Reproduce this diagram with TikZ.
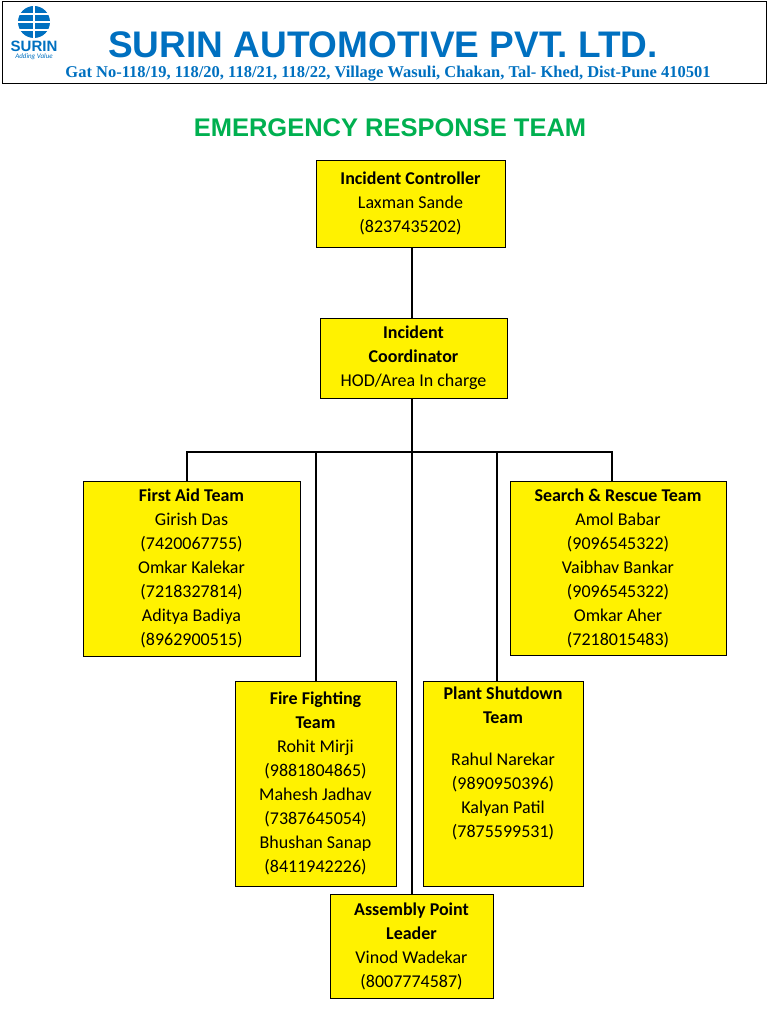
\documentclass[tikz,border=0pt]{standalone}
\usepackage{fontspec}
\setmainfont{Carlito}
\newfontfamily\headfont{Liberation Sans}
\newfontfamily\addrfont{Liberation Serif}
\usetikzlibrary{positioning}
\definecolor{surinblue}{RGB}{0,112,192}
\definecolor{titlegreen}{RGB}{0,176,80}
\tikzset{
  team/.style={draw=black, fill=yellow, align=center, inner sep=0pt,
    font=\fontsize{18}{24}\selectfont},
  link/.style={draw=black, line width=1.6pt}
}
\begin{document}
\begin{tikzpicture}[x=1pt, y=-1pt]
  \useasboundingbox (0,0) rectangle (768,1024);
  % header frame and logo
  \draw[line width=1pt] (2,2) rectangle (766,84);
  \fill[surinblue] (34,22) circle (16);
  \foreach \yy in {14,22,30} \draw[white, line width=1.2pt] (18,\yy) -- (50,\yy);
  \draw[white, line width=1.2pt] (34,5) -- (34,39);
  \node (logo) at (34,46) {\headfont\bfseries\fontsize{15}{15}\selectfont\color{surinblue}SURIN};
  \node[below=-5pt of logo] (slogan) {\itshape\fontsize{7}{7}\selectfont\color{surinblue}Adding Value};
  \node (company) at (383,45) {\headfont\bfseries\fontsize{37}{37}\selectfont\color{surinblue}SURIN AUTOMOTIVE PVT. LTD.};
  \node (address) at (388,74) {\addrfont\bfseries\fontsize{16.5}{16.5}\selectfont\color{surinblue}Gat No-118/19, 118/20, 118/21, 118/22, Village Wasuli, Chakan, Tal- Khed, Dist-Pune 410501};
  \node (title) at (390,128) {\headfont\bfseries\fontsize{25.5}{25.5}\selectfont\color{titlegreen}EMERGENCY RESPONSE TEAM};

  % team boxes
  \node[team, minimum width=189, minimum height=87] (controller) at (410.5,203.5)
    {\textbf{Incident Controller}\\Laxman Sande\\(8237435202)};
  \node[team, minimum width=187, minimum height=80] (coordinator) at (413.5,358)
    {\textbf{Incident}\\\textbf{Coordinator}\\HOD/Area In charge};
  \node[team, minimum width=217, minimum height=175] (firstaid) at (191.5,568.5)
    {\textbf{First Aid Team}\\Girish Das\\(7420067755)\\Omkar Kalekar\\(7218327814)\\Aditya Badiya\\(8962900515)};
  \node[team, minimum width=216, minimum height=174] (rescue) at (618,568)
    {\textbf{Search \& Rescue Team}\\Amol Babar\\(9096545322)\\Vaibhav Bankar\\(9096545322)\\Omkar Aher\\(7218015483)};
  \node[team, minimum width=161, minimum height=205] (fire) at (315.5,783.5)
    {\textbf{Fire Fighting}\\\textbf{Team}\\Rohit Mirji\\(9881804865)\\Mahesh Jadhav\\(7387645054)\\Bhushan Sanap\\(8411942226)};
  \node[team, minimum width=160, minimum height=205] (shutdown) at (503,783.5)
    {\textbf{Plant Shutdown}\\\textbf{Team}\\[18pt]Rahul Narekar\\(9890950396)\\Kalyan Patil\\(7875599531)\\[18pt]};
  \node[team, minimum width=163, minimum height=104] (assembly) at (411.5,946)
    {\textbf{Assembly Point}\\\textbf{Leader}\\Vinod Wadekar\\(8007774587)};

  % connectors
  \coordinate (bus) at (412,452);
  \draw[link] (controller.south -| bus) -- (coordinator.north -| bus);
  \draw[link] (coordinator.south -| bus) -- (bus);
  \draw[link] (firstaid.north -| 187,0) |- (bus) -| (rescue.north -| 612,0);
  \draw[link] (bus -| 316,0) -- (fire.north -| 316,0);
  \draw[link] (bus -| 497,0) -- (shutdown.north -| 497,0);
  \draw[link] (bus) -- (assembly.north -| bus);
\end{tikzpicture}
\end{document}
